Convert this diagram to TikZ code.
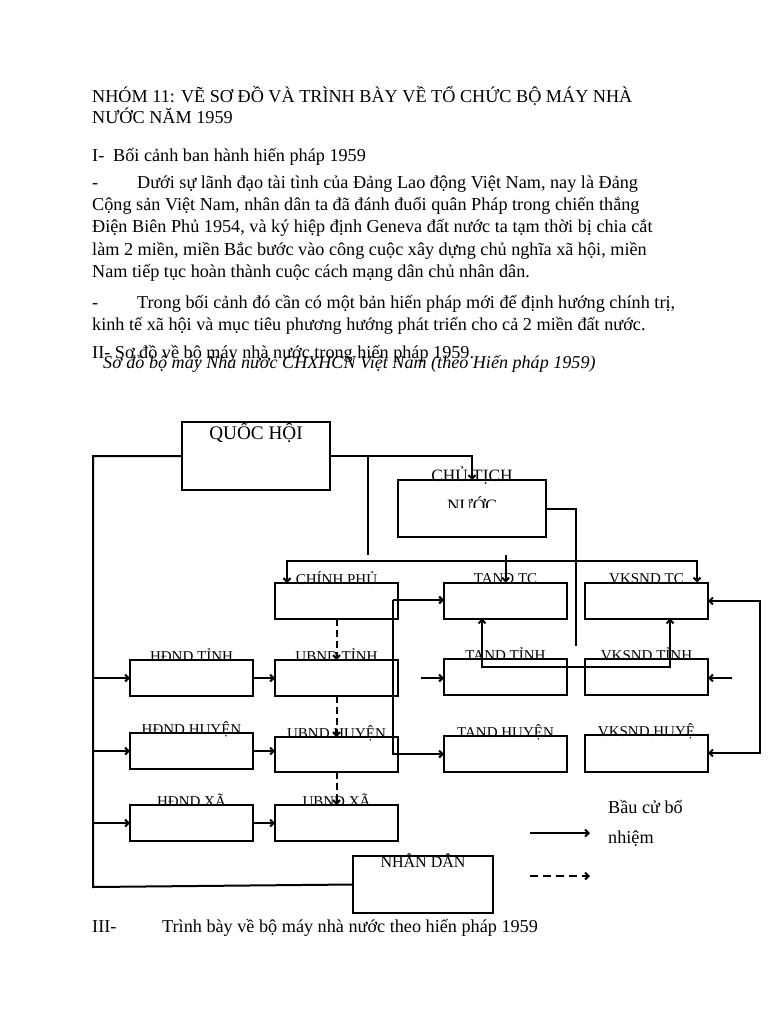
\documentclass[tikz,border=0pt]{standalone}
\usepackage{fontspec}
\setmainfont{Liberation Serif}
\usetikzlibrary{arrows.meta}
\begin{document}
\begin{tikzpicture}[x=1pt,y=-1pt,
  box/.style={draw, line width=2pt, minimum width=123pt, minimum height=36pt, inner sep=0pt, outer sep=0pt},
  lbl/.style={anchor=base, inner sep=0pt, font=\fontsize{15}{15}\selectfont},
  txt/.style={anchor=base west, inner sep=0pt, font=\fontsize{18.2}{22}\selectfont},
  ln/.style={line width=2pt},
  arr/.style={ln, -{Straight Barb[length=3.5pt,width=7pt]}},
  arrb/.style={ln, {Straight Barb[length=3.5pt,width=7pt]}-{Straight Barb[length=3.5pt,width=7pt]}},
  dsh/.style={arr, dash pattern=on 7pt off 4pt}]
\useasboundingbox[fill=white] (0,0) rectangle (768,1024);

% ---- text ----
\node[txt] (h1) at (92,103) {NHÓM 11: VẼ SƠ ĐỒ VÀ TRÌNH BÀY VỀ TỔ CHỨC BỘ MÁY NHÀ};
\node[txt] (h2) at (92,124) {NƯỚC NĂM 1959};
\node[txt] (s1) at (92,162) {I-};
\node[txt] (s1t) at (113,162) {Bối cảnh ban hành hiến pháp 1959};
\node[txt] (d1) at (92,189) {-};
\node[txt] (p1a) at (137,189) {Dưới sự lãnh đạo tài tình của Đảng Lao động Việt Nam, nay là Đảng};
\node[txt] (p1b) at (92,211) {Cộng sản Việt Nam, nhân dân ta đã đánh đuổi quân Pháp trong chiến thắng};
\node[txt] (p1c) at (92,233) {Điện Biên Phủ 1954, và ký hiệp định Geneva đất nước ta tạm thời bị chia cắt};
\node[txt] (p1d) at (92,255) {làm 2 miền, miền Bắc bước vào công cuộc xây dựng chủ nghĩa xã hội, miền};
\node[txt] (p1e) at (92,277) {Nam tiếp tục hoàn thành cuộc cách mạng dân chủ nhân dân.};
\node[txt] (d2) at (92,308) {-};
\node[txt] (p2a) at (137,308) {Trong bối cảnh đó cần có một bản hiến pháp mới để định hướng chính trị,};
\node[txt] (p2b) at (92,330) {kinh tế xã hội và mục tiêu phương hướng phát triển cho cả 2 miền đất nước.};
\node[txt] (s2) at (92,358) {II- Sơ đồ về bộ máy nhà nước trong hiến pháp 1959.};
\node[txt, font=\fontsize{18.1}{22}\selectfont\itshape] (cap) at (103,368) {Sơ đồ bộ máy Nhà nước CHXHCN Việt Nam (theo Hiến pháp 1959)};
\node[txt] (s3) at (92,932) {III-};
\node[txt] (s3t) at (162,932) {Trình bày về bộ máy nhà nước theo hiến pháp 1959};

% ---- boxes ----
\node[box, minimum width=148pt, minimum height=68pt] (qh) at (256,456) {};
\node[box, minimum width=148pt, minimum height=57pt] (ct) at (472,508.5) {};
\node[box] (cp) at (336.5,601) {};
\node[box] (tt) at (505.5,600.5) {};
\node[box] (vt) at (646.5,600.5) {};
\node[box] (hdt) at (191.5,678) {};
\node[box] (ubt) at (336.5,678) {};
\node[box] (ttinh) at (505.5,677) {};
\node[box] (vtinh) at (646.5,677) {};
\node[box] (hdh) at (191.5,751) {};
\node[box, minimum height=35pt] (ubh) at (336.5,754.5) {};
\node[box] (th) at (505.5,754) {};
\node[box, minimum height=37pt] (vh) at (646.5,753.5) {};
\node[box] (hdx) at (191.5,823) {};
\node[box] (ubx) at (336.5,823) {};
\node[box, minimum width=140pt, minimum height=57pt] (nd) at (423,884.5) {};

% ---- labels ----
\node[lbl, font=\fontsize{19.2}{19}\selectfont] (lqh) at ([yshift=-17pt]qh.north) {QUỐC HỘI};
\node[lbl, font=\fontsize{17.3}{17}\selectfont] (lct) at ([yshift=-1pt]ct.north) {CHỦ TỊCH};
\begin{scope}
\clip (398,488) rectangle (546,507);
\node[lbl, font=\fontsize{17.3}{17}\selectfont] (lct2) at (472,511) {NƯỚC};
\end{scope}
\node[lbl] (lcp) at ([yshift=-1pt]cp.north) {CHÍNH PHỦ};
\node[lbl] (ltt) at ([yshift=-1pt]tt.north) {TAND TC};
\node[lbl] (lvt) at ([yshift=-1pt]vt.north) {VKSND TC};
\node[lbl] (lhdt) at ([yshift=-1pt]hdt.north) {HĐND TỈNH};
\node[lbl] (lubt) at ([yshift=-1pt]ubt.north) {UBND TỈNH};
\node[lbl] (lttinh) at ([yshift=-1pt]ttinh.north) {TAND TỈNH};
\node[lbl] (lvtinh) at ([yshift=-1pt]vtinh.north) {VKSND TỈNH};
\node[lbl] (lhdh) at ([yshift=-1pt]hdh.north) {HĐND HUYỆN};
\node[lbl] (lubh) at ([yshift=-1pt]ubh.north) {UBND HUYỆN};
\node[lbl] (lth) at ([yshift=-1pt]th.north) {TAND HUYỆN};
\node[lbl] (lvh) at ([yshift=-1pt]vh.north) {VKSND.HUYỆ};
\node[lbl] (lhdx) at ([yshift=-1pt]hdx.north) {HĐND XÃ};
\node[lbl] (lubx) at ([yshift=-1pt]ubx.north) {UBND XÃ};
\node[lbl, font=\fontsize{16}{16}\selectfont] (lnd) at ([yshift=-11pt]nd.north) {NHÂN DÂN};

% ---- coordinates ----
\coordinate (lb) at (93,887);
\coordinate (q1) at (368,555);
\coordinate (b1) at (287,561);
\coordinate (b2) at (697,561);
\coordinate (t1) at (505.5,555);
\coordinate (c1) at (576,646);
\coordinate (g1) at (393,600);
\coordinate (g2) at (393,754);
\coordinate (u1) at (482,667);
\coordinate (u2) at (670,667);
\coordinate (sa) at (421,678);
\coordinate (sb) at (732,678);
\coordinate (r1) at (760,601);
\coordinate (r2) at (760,753);

% ---- connectors ----
\draw[ln] (qh.west) -| (lb) -- (nd.west);
\draw[arr] (qh.east) -| (ct.north);
\draw[ln] (q1 |- qh.east) -- (q1);
\draw[arrb] (b1 |- cp.north) -- (b1) -- (b2) -- (b2 |- vt.north);
\draw[arr] (t1) -- (tt.north);
\draw[ln] (ct.east) -| (c1);
\draw[arr] (lb |- hdt.west) -- (hdt.west);
\draw[arr] (lb |- hdh.west) -- (hdh.west);
\draw[arr] (lb |- hdx.west) -- (hdx.west);
\draw[arr] (hdt.east) -- (ubt.west);
\draw[arr] (hdh.east) -- (ubh.west |- hdh.east);
\draw[arr] (hdx.east) -- (ubx.west);
\draw[dsh] (cp.south) -- (ubt.north);
\draw[dsh] (ubt.south) -- (ubh.north);
\draw[dsh] (ubh.south) -- (ubx.north);
\draw[arr] (g1) -- (g1 -| tt.west);
\draw[arr] (g1) -- (g2) -- (g2 -| th.west);
\draw[arrb] (u1 |- tt.south) -- (u1) -- (u2) -- (u2 |- vt.south);
\draw[arr] (sa) -- (ttinh.west |- sa);
\draw[arr] (sb) -- (vtinh.east |- sb);
\draw[arrb] (r1 -| vt.east) -- (r1) -- (r2) -- (r2 -| vh.east);

% ---- legend ----
\coordinate (la1) at (530,833);
\coordinate (la2) at (590,833);
\coordinate (lc1) at (530,876);
\coordinate (lc2) at (590,876);
\draw[arr] (la1) -- (la2);
\draw[dsh, dash pattern=on 8pt off 5pt] (lc1) -- (lc2);
\node[txt] (lg1) at (608,813) {Bầu cử bổ};
\node[txt] (lg2) at (608,843) {nhiệm};
\end{tikzpicture}
\end{document}
